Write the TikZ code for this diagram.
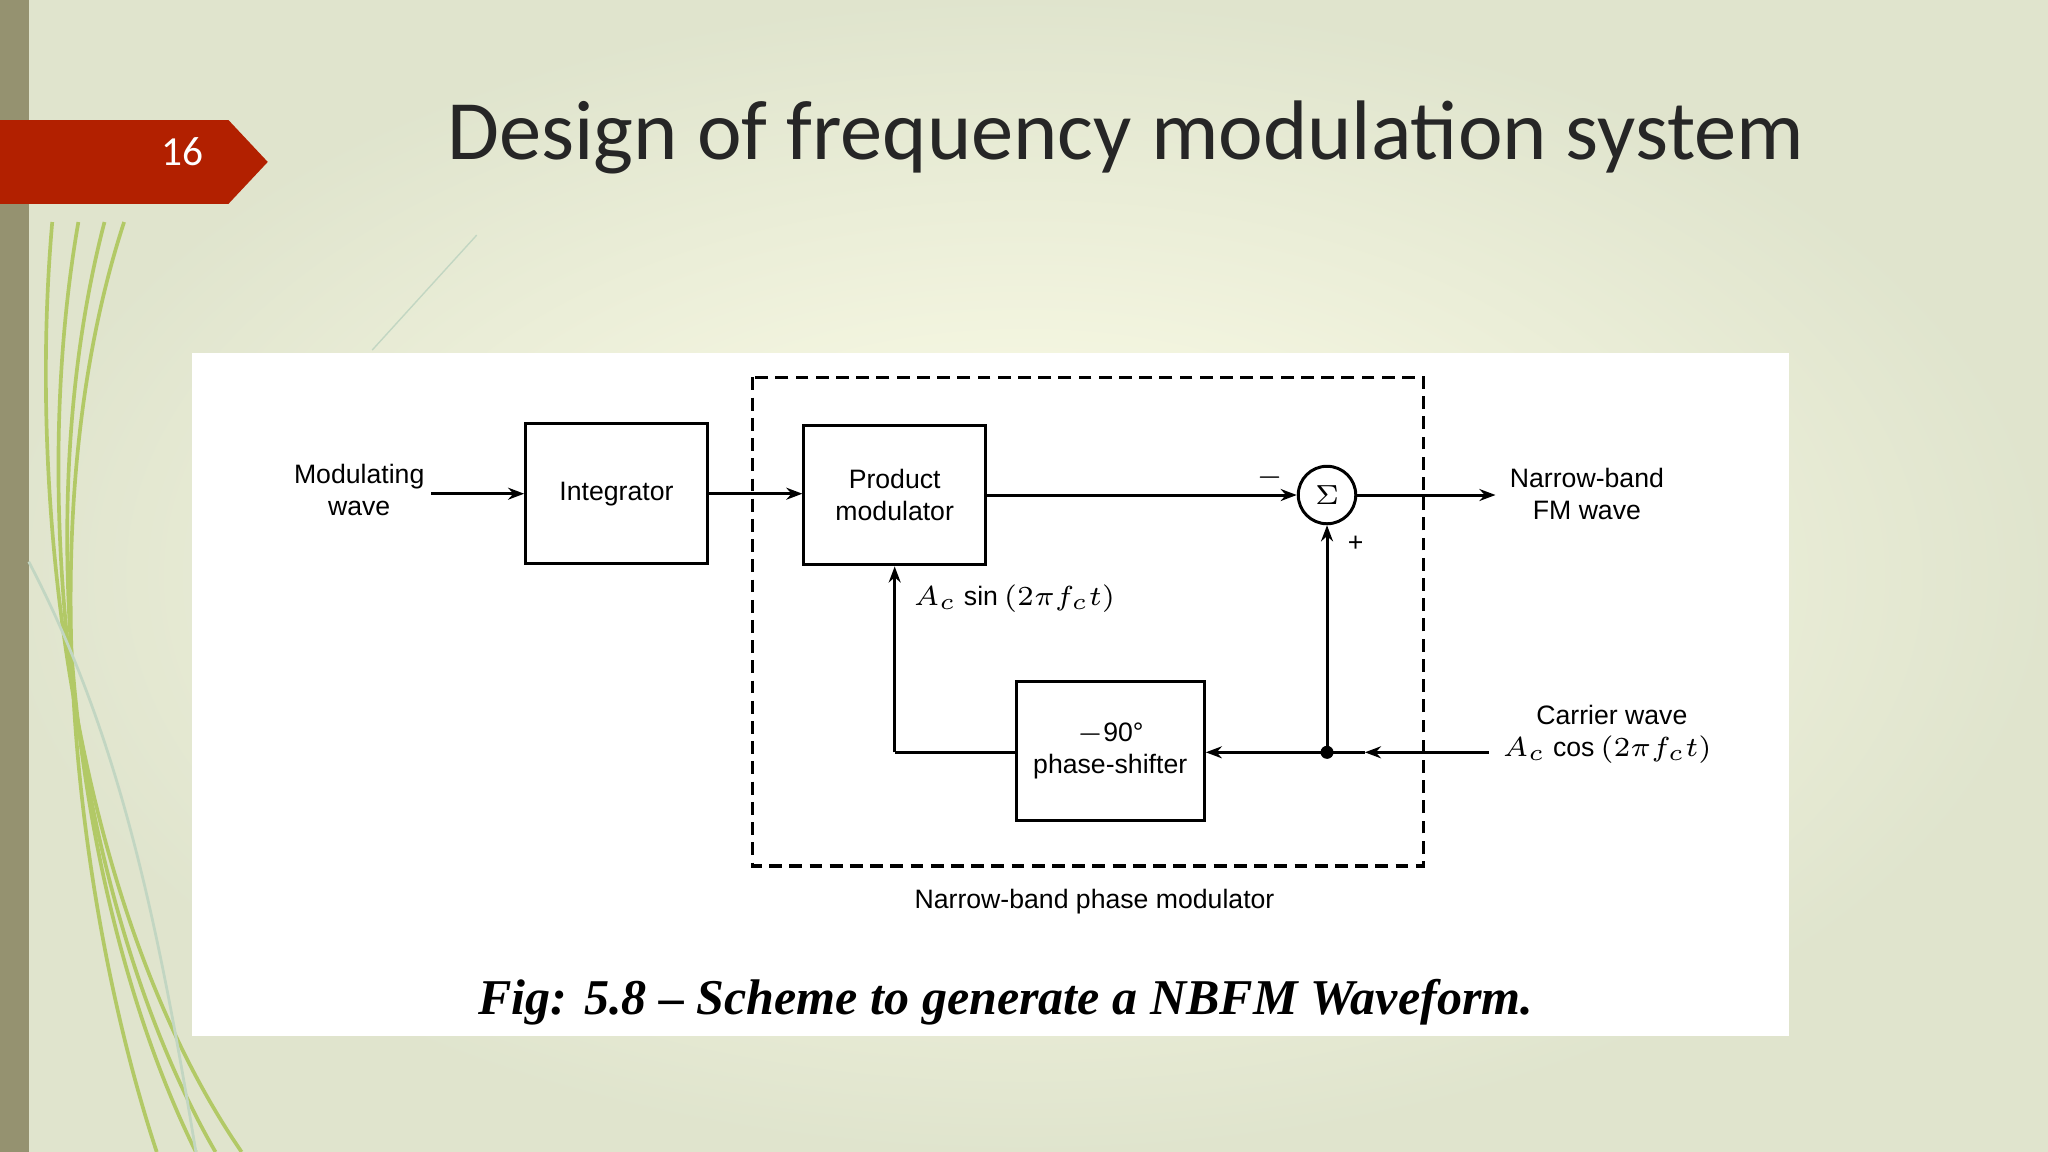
\documentclass[tikz,border=0pt]{standalone}
\usepackage{fontspec}
\setmainfont{Liberation Serif}
\newfontfamily\ttl{Carlito}
\newfontfamily\sff{Liberation Sans}
\usetikzlibrary{arrows.meta,shadings}
\begin{document}
\begin{tikzpicture}[x=0.01cm,y=-0.01cm,
  blk/.style={draw,line width=0.65pt,font=\sff\fontsize{5.8}{6.9}\selectfont,align=center,inner sep=0pt},
  lbl/.style={font=\sff\fontsize{5.8}{6.9}\selectfont,align=center,inner sep=0pt},
  ln/.style={line width=0.65pt},
  ar/.style={ln,-{Stealth[length=3.5pt,width=2.6pt]}}]
\useasboundingbox (0,0) rectangle (1568,882);
\shade[inner color=white!92!yellow,outer color=green!20!yellow!30!gray!30!white] (0,0) rectangle (1568,882);
% left decorations
\fill[black!45!yellow!45!gray] (0,0) rectangle (22,882);
\foreach \a/\b in {80/150,60/165,95/120,40/185}{
\draw[green!30!black!50!yellow!60,line width=0.8pt] (\a,170) .. controls (20,400) and (60,700) .. (\b,882);}
\draw[green!20!gray!40,line width=0.6pt] (22,430) .. controls (90,560) and (120,700) .. (150,882);
\draw[green!20!gray!40,line width=0.3pt] (285,268) -- (365,180);
% banner
\fill[red!60!black!75!orange] (0,92) -- (175,92) -- (205,124) -- (175,156) -- (0,156) -- cycle;
\node[text=white,font=\ttl\fontsize{9}{10}\selectfont] (num) at (140,116) {16};
\node[text=black!85,font=\ttl\fontsize{18.4}{20}\selectfont] (title) at (862,105) {Design of frequency modulation system};
% white panel
\fill[white] (147,270) rectangle (1370,793);
% diagram
\draw[line width=0.7pt,dash pattern=on 2.8pt off 1.6pt] (576,289) rectangle (1090,663);
\node[blk,minimum width=1.39cm,minimum height=1.07cm] (int) at (472,378) {Integrator};
\node[blk,minimum width=1.39cm,minimum height=1.07cm] (prod) at (685,379) {Product\\modulator};
\node[blk,minimum width=1.44cm,minimum height=1.06cm] (ps) at (850,575) {$-$90°\\phase-shifter};
\node[draw,circle,line width=0.65pt,minimum size=0.44cm,inner sep=0pt,font=\fontsize{6}{7}\selectfont] (sum) at (1016,379) {$\Sigma$};
\node[lbl] (mw) at (275,375) {Modulating\\wave};
\node[lbl] (fm) at (1215,378) {Narrow-band\\FM wave};
\node[lbl,anchor=west] (cw) at (1150,562) {\hspace*{2pt}Carrier wave\\$A_c$ cos$\,(2\pi f_c t)$};
\node[lbl,anchor=west] (sinl) at (699,458) {$A_c$ sin$\,(2\pi f_c t)$};
\node[lbl] (npm) at (838,690) {Narrow-band phase modulator};
\node[font=\bfseries\itshape\fontsize{10.9}{12}\selectfont] (cap) at (770,767) {Fig: 5.8 -- Scheme to generate a NBFM Waveform.};
\node[lbl] (mi) at (972,366) {$-$};
\node[lbl] (pl) at (1038,416) {+};
\coordinate (in) at (330,378);
\coordinate (out) at (1145,379);
\coordinate (cin) at (1140,576);
\coordinate (j) at (1016,576);
\coordinate (c1) at (685,576);
\draw[ar] (in) -- (int.west);
\draw[ar] (int.east) -- (prod.west |- int.east);
\draw[ar] (prod.east |- sum) -- (sum.west);
\draw[ar] (sum.east) -- (out);
\draw[ar] (cin) -- (1045,576);
\draw[ln] (1045,576) -- (j);
\draw[ar] (j) -- (ps.east |- j);
\fill (j) circle (5);
\draw[ar] (j) -- (sum.south);
\draw[ln] (ps.west |- c1) -- (c1);
\draw[ar] (c1) -- (prod.south);
\end{tikzpicture}
\end{document}
